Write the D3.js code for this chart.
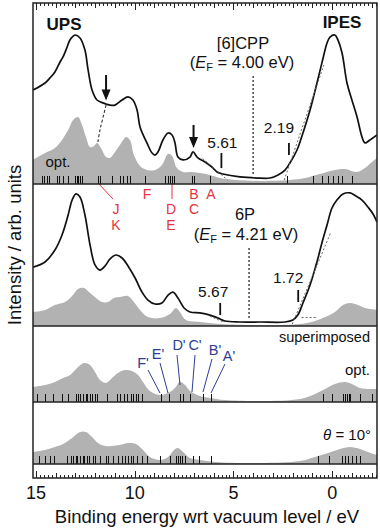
<!DOCTYPE html>
<html><head><meta charset="utf-8">
<script src="https://cdn.jsdelivr.net/npm/d3@7"></script>
<style>html,body{margin:0;padding:0;background:#fff} svg{display:block}</style>
</head><body>
<svg id="c" width="380" height="529"></svg>
<script>
// ---------------- data ----------------
const energyTickLabels = [15, 10, 5, 0];

// [6]CPP UPS / IPES spectrum  [binding energy eV, intensity arb.]
const spec6CPP = [[15.15,0.519],[14.54,0.558],[14.29,0.586],[14.04,0.619],[13.78,0.674],[13.63,0.702],[13.42,0.757],[13.28,0.796],[13.02,0.823],[12.77,0.807],[12.52,0.740],[12.36,0.630],[12.16,0.519],[11.91,0.464],[11.61,0.448],[11.25,0.436],[11.00,0.436],[10.64,0.464],[10.34,0.481],[10.09,0.464],[9.88,0.409],[9.73,0.315],[9.38,0.227],[9.12,0.171],[8.97,0.160],[8.82,0.177],[8.57,0.243],[8.31,0.282],[8.11,0.271],[7.96,0.227],[7.81,0.149],[7.55,0.133],[7.20,0.149],[7.05,0.177],[6.80,0.144],[6.44,0.122],[6.09,0.094],[5.83,0.066],[5.53,0.055],[4.67,0.039],[3.81,0.033],[3.15,0.033],[2.74,0.050],[2.39,0.077],[2.14,0.116],[1.78,0.188],[1.48,0.282],[1.12,0.409],[0.77,0.558],[0.52,0.669],[0.26,0.779],[0.11,0.812],[-0.14,0.823],[-0.29,0.796],[-0.50,0.724],[-0.75,0.558],[-1.00,0.464],[-1.26,0.370],[-1.51,0.260],[-1.66,0.227],[-1.91,0.243],[-2.27,0.271]];
// [6]CPP optimized-structure simulated DOS
const opt6CPP = [[15.15,0.133],[14.54,0.171],[14.04,0.199],[13.68,0.243],[13.37,0.298],[13.12,0.354],[12.87,0.370],[12.67,0.326],[12.47,0.260],[12.26,0.204],[12.06,0.210],[11.91,0.227],[11.71,0.199],[11.45,0.149],[11.25,0.144],[11.00,0.177],[10.75,0.215],[10.44,0.260],[10.24,0.243],[10.04,0.160],[9.73,0.099],[9.38,0.077],[8.97,0.077],[8.62,0.105],[8.31,0.166],[8.11,0.155],[7.86,0.088],[7.55,0.066],[7.20,0.066],[6.70,0.061],[6.19,0.050],[5.68,0.033],[4.92,0.022],[3.66,0.017],[2.14,0.022],[1.38,0.033],[0.62,0.055],[-0.14,0.077],[-0.65,0.083],[-1.26,0.066],[-1.66,0.088],[-2.01,0.122],[-2.27,0.144]];
const states6CPP = [14.69,14.59,14.44,14.34,13.93,13.83,13.63,13.38,13.02,12.92,12.87,12.77,12.67,11.86,11.76,11.15,10.75,10.59,10.39,10.24,9.48,8.47,8.31,8.21,8.11,8.01,7.10,7.00,6.19,2.29,0.97,0.52,0.21,-0.04,-0.29,-0.49,-1.00];
const arrows6CPP = [[11.45,0.602,0.462],[7.02,0.326,0.199]]; // [E, from, to]
const shoulderDash6CPP = [[11.45,0.436],[11.61,0.365],[11.76,0.298],[11.86,0.232]];
const onsetFit6CPP = [[[6.55,0.140],[5.30,0.022]],[[2.43,0.022],[0.42,0.657]]];
const onsets6CPP = [{label:"5.61", e:5.61, i0:0.171, i1:0.088},{label:"2.19", e:2.19, i0:0.227, i1:0.160}];
const fermi6CPP = {e:4.00, i0:0.597, i1:0.044};

// 6P spectrum
const spec6P = [[15.15,0.415],[14.54,0.451],[14.04,0.535],[13.68,0.641],[13.37,0.782],[13.17,0.887],[12.97,0.930],[12.77,0.908],[12.52,0.782],[12.26,0.570],[12.01,0.430],[11.76,0.394],[11.50,0.423],[11.25,0.472],[10.95,0.500],[10.64,0.479],[10.34,0.423],[9.98,0.338],[9.63,0.239],[9.33,0.183],[8.97,0.155],[8.62,0.162],[8.31,0.218],[8.06,0.239],[7.81,0.197],[7.50,0.127],[7.20,0.099],[6.70,0.092],[6.19,0.077],[5.78,0.056],[5.43,0.035],[4.67,0.028],[3.66,0.028],[2.39,0.028],[1.99,0.042],[1.74,0.077],[1.48,0.162],[1.12,0.289],[0.77,0.451],[0.52,0.585],[0.26,0.711],[0.01,0.831],[-0.24,0.887],[-0.55,0.930],[-0.90,0.937],[-1.20,0.915],[-1.51,0.887],[-1.81,0.838],[-2.07,0.789],[-2.27,0.732]];
const opt6P = [[15.15,0.099],[14.54,0.113],[14.04,0.148],[13.53,0.169],[13.17,0.211],[12.87,0.261],[12.57,0.268],[12.26,0.232],[11.96,0.197],[11.66,0.169],[11.35,0.169],[11.05,0.197],[10.75,0.204],[10.34,0.211],[10.04,0.169],[9.73,0.113],[9.33,0.063],[8.72,0.056],[8.21,0.085],[7.91,0.127],[7.71,0.099],[7.40,0.042],[6.70,0.028],[5.68,0.014],[3.66,0.007],[1.63,0.014],[0.87,0.035],[0.36,0.063],[-0.14,0.099],[-0.55,0.148],[-0.90,0.162],[-1.31,0.148],[-1.66,0.127],[-2.27,0.113]];
const onsetFit6P = [[[6.20,0.070],[5.45,0.025]],[[2.02,0.014],[0.06,0.662]],[[1.55,0.060],[0.75,0.060]]];
const onsets6P = [{label:"5.67", e:5.67, i0:0.162, i1:0.077},{label:"1.72", e:1.72, i0:0.254, i1:0.169}];
const fermi6P = {e:4.21, i0:0.549, i1:0.056};

// superimposed
const optSuper = [[15.15,0.197],[14.54,0.224],[14.04,0.263],[13.63,0.316],[13.27,0.355],[12.87,0.461],[12.57,0.513],[12.26,0.487],[12.01,0.395],[11.76,0.289],[11.45,0.250],[11.15,0.316],[10.85,0.382],[10.49,0.421],[10.14,0.408],[9.83,0.355],[9.58,0.263],[9.23,0.145],[8.72,0.092],[8.21,0.132],[7.96,0.184],[7.71,0.263],[7.45,0.224],[7.20,0.145],[6.70,0.079],[6.19,0.053],[5.43,0.026],[3.66,0.013],[1.63,0.039],[0.87,0.105],[0.36,0.171],[-0.14,0.237],[-0.65,0.263],[-1.00,0.237],[-1.41,0.184],[-1.81,0.171],[-2.27,0.171]];
const statesSuper = [14.95,14.54,14.14,13.68,13.37,12.97,12.87,12.77,12.62,12.47,12.42,12.26,12.16,12.01,11.91,11.40,10.90,10.75,10.54,10.39,10.19,10.09,9.93,9.83,9.63,8.67,8.26,7.71,7.55,7.20,6.54,6.14,0.47,0.01,-0.55,-0.65,-0.75,-0.85,-0.90,-1.41,-2.01];

// theta = 10 deg
const optTheta = [[15.15,0.194],[14.54,0.226],[14.04,0.274],[13.63,0.323],[13.17,0.419],[12.77,0.516],[12.47,0.516],[12.16,0.435],[11.86,0.339],[11.50,0.290],[11.15,0.290],[10.75,0.306],[10.34,0.339],[9.93,0.323],[9.58,0.226],[9.23,0.113],[8.72,0.065],[8.31,0.113],[8.01,0.226],[7.81,0.258],[7.55,0.194],[7.20,0.097],[6.70,0.065],[5.93,0.032],[3.66,0.016],[1.63,0.048],[0.87,0.113],[0.21,0.177],[-0.39,0.242],[-0.90,0.274],[-1.41,0.242],[-1.81,0.194],[-2.27,0.145]];
const statesTheta = [14.85,14.54,14.29,14.09,13.43,13.23,13.12,12.97,12.92,12.77,12.62,12.57,12.42,12.32,12.11,12.01,11.76,11.45,11.35,11.10,10.85,10.64,10.49,10.34,10.19,10.09,9.88,9.63,9.38,8.72,8.21,7.91,7.81,7.71,7.60,7.45,7.05,6.74,6.14,0.72,0.16,-0.49,-0.65,-0.80,-1.00,-1.21,-1.41];

const redLabels = ["J","K","F","D","E","B","C","A"];
const blueLabels = ["F'","E'","D'","C'","B'","A'"];

// ---------------- drawing ----------------
const svg = d3.select("#c");
const L = 33, R = 377, T = 3, B = 478;
const x = d3.scaleLinear().domain([15.15, -2.27]).range([L, R]);
const panelBounds = [[3,184],[184,326],[326,402],[402,464]];
const ys = panelBounds.map(([t,b]) => d3.scaleLinear().domain([0,1]).range([b,t]));
const font = "'Liberation Sans', Arial, Helvetica, sans-serif";
const GRAY = "#b2b2b2";

const defs = svg.append("defs");
panelBounds.forEach(([t,b],k) => {
  defs.append("clipPath").attr("id","clip"+k).append("rect")
    .attr("x",L).attr("y",t).attr("width",R-L).attr("height",b-t);
});

function panelG(k){ return svg.append("g").attr("clip-path",`url(#clip${k})`); }

function drawFill(k, data){
  const y = ys[k];
  const area = d3.area().x(d=>x(d[0])).y0(y(0)).y1(d=>y(d[1])).curve(d3.curveCatmullRom.alpha(0.5));
  panelG(k).append("path").datum(data).attr("d",area).attr("fill",GRAY);
}
function drawLine(k, data, opts={}){
  const y = ys[k];
  const line = d3.line().x(d=>x(d[0])).y(d=>y(d[1])).curve(d3.curveCatmullRom.alpha(0.5));
  panelG(k).append("path").datum(data).attr("d",line).attr("fill","none")
    .attr("stroke",opts.stroke||"#111").attr("stroke-width",opts.width||1.7)
    .attr("stroke-dasharray",opts.dash||null).attr("stroke-linejoin","round");
}
function drawStates(k, states){
  const y = ys[k];
  panelG(k).selectAll(null).data(states).enter().append("line")
    .attr("x1",d=>Math.round(x(d))+0.5).attr("x2",d=>Math.round(x(d))+0.5)
    .attr("y1",y(0)).attr("y2",y(0)-8)
    .attr("stroke","#111").attr("stroke-width",1)
    .attr("shape-rendering","crispEdges");
}
function vline(k, e, i0, i1, opts={}){
  const y = ys[k];
  svg.append("line").attr("x1",x(e)).attr("x2",x(e)).attr("y1",y(i0)).attr("y2",y(i1))
    .attr("stroke",opts.stroke||"#111").attr("stroke-width",opts.width||1.6)
    .attr("stroke-dasharray",opts.dash||null);
}
function text(str, px, py, opts={}){
  return svg.append("text").attr("x",px).attr("y",py).text(str)
    .attr("font-family",font).attr("font-size",opts.size||15)
    .attr("font-weight",opts.weight||"normal")
    .attr("text-anchor",opts.anchor||"middle")
    .attr("fill",opts.fill||"#111");
}
function efLabel(px, py, val){
  const t = svg.append("text").attr("x",px).attr("y",py).attr("text-anchor","middle")
    .attr("font-family",font).attr("font-size",16.5).attr("fill","#111");
  t.append("tspan").text("(");
  t.append("tspan").text("E").attr("font-style","italic");
  t.append("tspan").text("F").attr("font-size",11).attr("dy",3);
  t.append("tspan").text(" = " + val + " eV)").attr("dy",-3);
}

// Panel 0 : [6]CPP
drawFill(0, opt6CPP);
drawStates(0, states6CPP);
drawLine(0, spec6CPP);
drawLine(0, shoulderDash6CPP, {stroke:"#333", width:1.1, dash:"3,2"});
onsetFit6CPP.forEach(seg => drawLine(0, seg, {stroke:"#666", width:1, dash:"2,2"}));
vline(0, fermi6CPP.e, fermi6CPP.i0, fermi6CPP.i1, {stroke:"#555", width:1.6, dash:"2,2"});
onsets6CPP.forEach(o => vline(0, o.e, o.i0, o.i1, {width:1.8}));
arrows6CPP.forEach(([e,i0,i1]) => {
  const y = ys[0], px = x(e);
  svg.append("line").attr("x1",px).attr("x2",px).attr("y1",y(i0)).attr("y2",y(i1)-9)
    .attr("stroke","#111").attr("stroke-width",2);
  svg.append("path").attr("d",`M${px-4.5},${y(i1)-11} L${px+4.5},${y(i1)-11} L${px},${y(i1)} Z`).attr("fill","#111");
});
text("UPS", 64, 30, {size:17, weight:"bold"});
text("IPES", 342, 28, {size:17, weight:"bold"});
text("[6]CPP", 243, 49, {size:16.5});
efLabel(242, 68, "4.00");
text(onsets6CPP[0].label, x(onsets6CPP[0].e)+1, 148, {size:15.5});
text(onsets6CPP[1].label, x(onsets6CPP[1].e)-10, 133, {size:15.5});
text("opt.", 58, 167, {size:15});

// Panel 1 : 6P
drawFill(1, opt6P);
drawLine(1, spec6P);
onsetFit6P.forEach(seg => drawLine(1, seg, {stroke:"#666", width:1, dash:"2,2"}));
vline(1, fermi6P.e, fermi6P.i0, fermi6P.i1, {stroke:"#555", width:1.6, dash:"2,2"});
onsets6P.forEach(o => vline(1, o.e, o.i0, o.i1, {width:1.8}));
text("6P", 245, 220, {size:16.5});
efLabel(246, 240, "4.21");
text(onsets6P[0].label, x(onsets6P[0].e)-7, 297, {size:15.5});
text(onsets6P[1].label, x(onsets6P[1].e)-10, 283, {size:15.5});

// red labels
const RED = "#e3343f";
svg.append("line").attr("x1",x(11.81)).attr("y1",184).attr("x2",113).attr("y2",199).attr("stroke",RED).attr("stroke-width",1);
svg.append("line").attr("x1",x(8.11)).attr("y1",184).attr("x2",x(8.11)).attr("y2",199).attr("stroke",RED).attr("stroke-width",1);
const redPos = [[116,214],[116,230],[147,199],[171,214],[171,230],[194,199],[194,214],[211,199]];
redLabels.forEach((s,i) => text(s, redPos[i][0], redPos[i][1], {size:14, fill:RED}));

// Panel 2 : superimposed
drawFill(2, optSuper);
drawStates(2, statesSuper);
text("superimposed", 370, 342, {size:14.5, anchor:"end"});
text("opt.", 370, 375, {size:15, anchor:"end"});
const BLUE = "#2e3d94";
const bluePos = [[143,368],[158,359],[179,350],[195,350],[215,355],[229,361]];
const blueLines = [[[148,370],[160,393]],[[160,363],[168,393]],[[177,355],[180,385]],[[195,355],[192,392]],[[212,359],[203,392]],[[225,364],[211,393]]];
blueLabels.forEach((s,i) => {
  text(s, bluePos[i][0], bluePos[i][1], {size:14.5, fill:BLUE});
  svg.append("line").attr("x1",blueLines[i][0][0]).attr("y1",blueLines[i][0][1])
    .attr("x2",blueLines[i][1][0]).attr("y2",blueLines[i][1][1]).attr("stroke",BLUE).attr("stroke-width",1);
});

// Panel 3 : theta
drawFill(3, optTheta);
drawStates(3, statesTheta);
const th = svg.append("text").attr("x",371).attr("y",440).attr("text-anchor","end")
  .attr("font-family",font).attr("font-size",15).attr("fill","#111");
th.append("tspan").text("θ").attr("font-style","italic");
th.append("tspan").text(" = 10°");

// frame and dividers
svg.append("rect").attr("x",L).attr("y",T).attr("width",R-L).attr("height",B-T)
  .attr("fill","none").attr("stroke","#222").attr("stroke-width",1.5);
[184,326,402,464].forEach(yy => svg.append("line").attr("x1",L).attr("x2",R).attr("y1",yy).attr("y2",yy)
  .attr("stroke","#222").attr("stroke-width",1.5));

// minor ticks top & bottom
const tickVals = d3.range(-11, 76).map(i => i*0.2).filter(v => v >= -2.27 && v <= 15.15);
tickVals.forEach(v => {
  const r = Math.round(v*10)/10;
  const len = (Math.abs(r % 5) < 1e-6) ? 7 : (Math.abs(r - Math.round(r)) < 1e-6 ? 5 : 3);
  const px = Math.round(x(v)) + 0.5;
  svg.append("line").attr("x1",px).attr("x2",px).attr("y1",B).attr("y2",B-len).attr("stroke","#222").attr("stroke-width",1).attr("shape-rendering","crispEdges");
  svg.append("line").attr("x1",px).attr("x2",px).attr("y1",T).attr("y2",T+len).attr("stroke","#222").attr("stroke-width",1).attr("shape-rendering","crispEdges");
});
energyTickLabels.forEach(v => text(String(v), x(v), 499, {size:18}));
text("Binding energy wrt vacuum level / eV", 207, 523, {size:18.5});
svg.append("text").attr("transform","translate(21,245) rotate(-90)").attr("text-anchor","middle")
  .attr("font-family",font).attr("font-size",18.5).attr("fill","#111").text("Intensity / arb. units");
</script>
</body></html>
